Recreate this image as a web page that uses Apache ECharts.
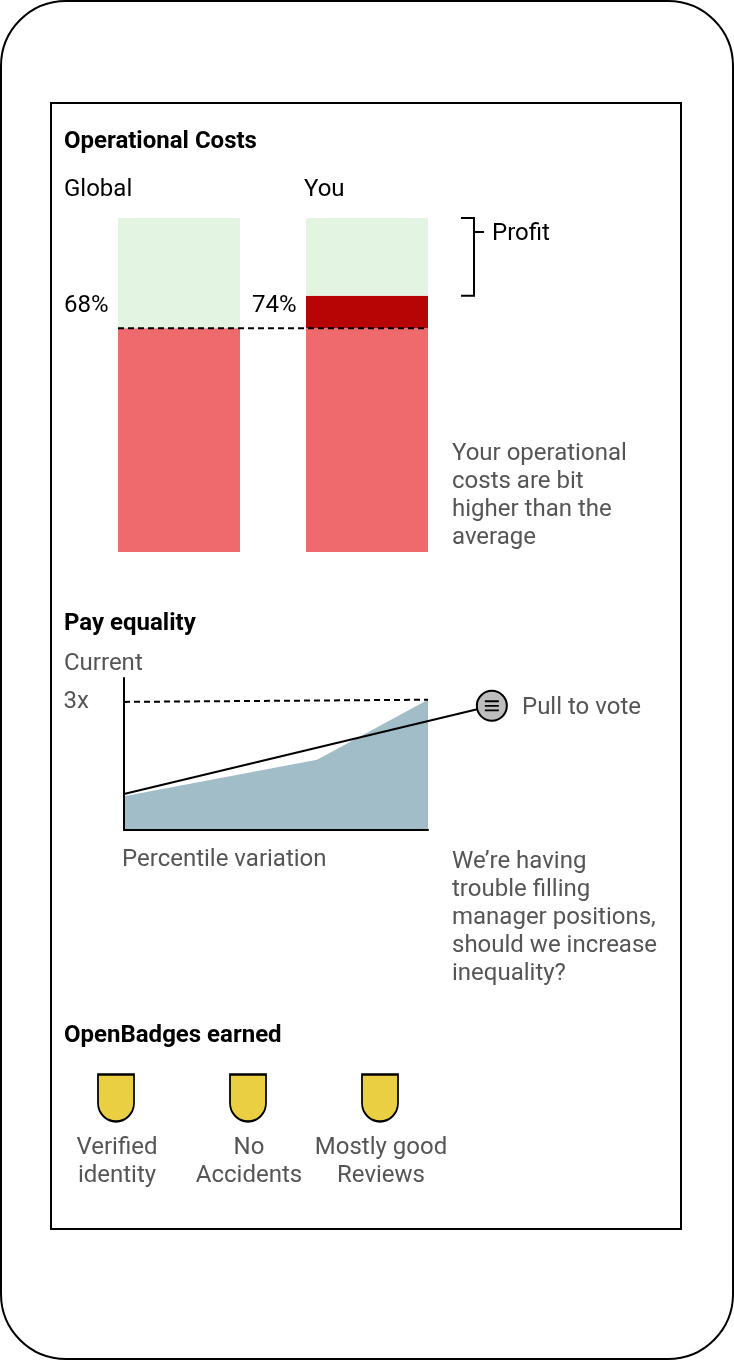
<!DOCTYPE html>
<html>
<head>
<meta charset="utf-8">
<style>
  html, body { margin: 0; padding: 0; background: #fff; }
  #main { width: 734px; height: 1360px; }
</style>
<script src="https://cdn.jsdelivr.net/npm/echarts@6/dist/echarts.min.js"></script>
</head>
<body>
<div id="main"></div>
<script>
// operational costs
const costCategories = ['Global', 'You'];
const costLabels = ['68%', '74%'];
const baseCost = [67, 67];
const extraCost = [0, 9.7];
const profit = [33, 23.3];

// pay equality
const payCurve = [[0, 0.78], [63.5, 1.62], [100, 3]];
const currentLevel = [[0, 2.95], [100, 3]];
const voteLine = [0, 0.83, 121, 2.86];

// badges
const badgeNames = ['Verified\nidentity', 'No\nAccidents', 'Mostly good\nReviews'];
const badgeValues = [1, 1, 1];

const BLACK = '#000';
const GREY = '#555';
const FONT = 'Roboto, sans-serif';

function label(text, x, y, fill, weight) {
    return {
        type: 'text',
        style: {
            text: text, x: x, y: y, fill: fill,
            font: (weight || 400) + ' 24px ' + FONT,
            lineHeight: 28, textVerticalAlign: 'middle'
        }
    };
}

function paragraph(text, x, y) {
    return {
        type: 'text',
        style: {
            text: text, x: x, y: y, fill: GREY,
            font: '400 24px ' + FONT,
            lineHeight: 28, textVerticalAlign: 'top'
        }
    };
}

const chart = echarts.init(document.getElementById('main'));

const option = {
    animation: false,
    graphic: {
        elements: [
            { type: 'rect', shape: { x: 1, y: 1, width: 732, height: 1358, r: 65 }, style: { fill: 'none', stroke: BLACK, lineWidth: 2 } },
            { type: 'rect', shape: { x: 51, y: 103, width: 630, height: 1126 }, style: { fill: 'none', stroke: BLACK, lineWidth: 2 } },
            label('Operational Costs', 64, 142, BLACK, 700),
            label(costCategories[0], 64, 190, BLACK),
            label(costCategories[1], 304, 190, BLACK),
            label(costLabels[0], 64, 306, BLACK),
            label(costLabels[1], 252, 306, BLACK),
            label('Profit', 492, 234, BLACK),
            paragraph('Your operational\ncosts are bit\nhigher than the\naverage', 452, 440),
            label('Pay equality', 64, 624, BLACK, 700),
            label('Current', 64, 664, GREY),
            label('Percentile variation', 122, 860, GREY),
            label('Pull to vote', 522, 708, GREY),
            paragraph('We\u2019re having\ntrouble filling\nmanager positions,\nshould we increase\ninequality?', 452, 848),
            label('OpenBadges earned', 64, 1036, BLACK, 700)
        ]
    },
    grid: [
        { left: 85, width: 376, top: 218, height: 334 },
        { left: 124, width: 304, top: 678, height: 152 },
        { left: 51, width: 396, top: 1074, height: 48 }
    ],
    xAxis: [
        { gridIndex: 0, type: 'category', data: costCategories, show: false },
        {
            gridIndex: 1, type: 'value', min: 0, max: 100, z: 3,
            axisLine: { show: true, onZero: false, lineStyle: { color: BLACK, width: 2 } },
            axisTick: { show: false }, axisLabel: { show: false }, splitLine: { show: false }
        },
        { gridIndex: 2, type: 'category', data: badgeNames, show: false }
    ],
    yAxis: [
        { gridIndex: 0, type: 'value', min: 0, max: 100, show: false },
        {
            gridIndex: 1, type: 'value', min: 0, max: 3.5, interval: 0.5, z: 3,
            axisLine: { show: true, lineStyle: { color: BLACK, width: 2 } },
            axisTick: { show: false }, splitLine: { show: false },
            axisLabel: {
                margin: 35,
                rich: { tick: { color: GREY, fontFamily: FONT, fontSize: 24, padding: [5, 0, 0, 0] } },
                formatter: function (v) { return v === 3 ? '{tick|3x}' : ''; }
            }
        },
        { gridIndex: 2, type: 'value', min: 0, max: 2, show: false }
    ],
    series: [
        { name: 'Base cost', type: 'bar', stack: 'cost', barWidth: 122, xAxisIndex: 0, yAxisIndex: 0, data: baseCost, itemStyle: { color: '#ef6a6c' } },
        { name: 'Extra cost', type: 'bar', stack: 'cost', barWidth: 122, xAxisIndex: 0, yAxisIndex: 0, data: extraCost, itemStyle: { color: '#b70505' } },
        { name: 'Profit', type: 'bar', stack: 'cost', barWidth: 122, xAxisIndex: 0, yAxisIndex: 0, data: profit, itemStyle: { color: '#e3f4e3' } },
        {
            // dashed level across both bars
            name: 'Average', type: 'custom', xAxisIndex: 0, yAxisIndex: 0, z: 5, clip: false,
            data: [[0, baseCost[0]]],
            renderItem: function (params, api) {
                const y = api.coord([0, api.value(1)])[1];
                const x0 = api.coord([0, 0])[0] - 61;
                const x1 = api.coord([1, 0])[0] + 61;
                return {
                    type: 'line', shape: { x1: x0, y1: y, x2: x1, y2: y },
                    style: { stroke: BLACK, lineWidth: 2, lineDash: [6, 4] }
                };
            }
        },
        {
            // bracket marking the profit share of "You"
            name: 'Profit bracket', type: 'custom', xAxisIndex: 0, yAxisIndex: 0, z: 5, clip: false,
            data: [[1, 100, baseCost[1] + extraCost[1]]],
            renderItem: function (params, api) {
                const top = api.coord([1, api.value(1)])[1];
                const bottom = api.coord([1, api.value(2)])[1];
                const x = api.coord([1, 0])[0] + 107;
                return {
                    type: 'group',
                    children: [
                        { type: 'polyline', shape: { points: [[x - 13, top], [x, top], [x, bottom], [x - 13, bottom]] }, style: { stroke: BLACK, lineWidth: 2, fill: 'none' } },
                        { type: 'line', shape: { x1: x, y1: top + 14, x2: x + 10, y2: top + 14 }, style: { stroke: BLACK, lineWidth: 2 } }
                    ]
                };
            }
        },
        {
            name: 'Pay curve', type: 'line', xAxisIndex: 1, yAxisIndex: 1, data: payCurve, symbol: 'none',
            lineStyle: { width: 0 }, areaStyle: { color: '#a1bdc8', opacity: 1 }
        },
        {
            name: 'Current level', type: 'line', xAxisIndex: 1, yAxisIndex: 1, data: currentLevel, symbol: 'none', z: 3,
            lineStyle: { color: BLACK, width: 2, type: [6, 4] }
        },
        {
            // custom so the line can run past the axis to the handle
            name: 'Vote', type: 'custom', xAxisIndex: 1, yAxisIndex: 1, z: 4, clip: false,
            data: [voteLine],
            renderItem: function (params, api) {
                const from = api.coord([api.value(0), api.value(1)]);
                const to = api.coord([api.value(2), api.value(3)]);
                return {
                    type: 'line', shape: { x1: from[0], y1: from[1], x2: to[0], y2: to[1] },
                    style: { stroke: BLACK, lineWidth: 2 }
                };
            }
        },
        {
            name: 'Handle', type: 'scatter', xAxisIndex: 1, yAxisIndex: 1, data: [[voteLine[2], voteLine[3]]], clip: false, z: 5,
            symbol: 'circle', symbolSize: 30,
            itemStyle: { color: '#bdbdbd', borderColor: BLACK, borderWidth: 2, opacity: 1 }
        },
        {
            name: 'Handle icon', type: 'scatter', xAxisIndex: 1, yAxisIndex: 1, data: [[voteLine[2], voteLine[3]]], clip: false, z: 6,
            symbol: 'path://M0 0H14V2H0Z M0 5H14V7H0Z M0 10H14V12H0Z', symbolSize: [14, 11],
            itemStyle: { color: BLACK, opacity: 1 }
        },
        {
            name: 'Badges', type: 'scatter', xAxisIndex: 2, yAxisIndex: 2, data: badgeValues,
            symbol: 'path://M0 0H36V28A18 18 0 0 1 0 28Z', symbolSize: [36, 47], symbolOffset: [-1, 0],
            itemStyle: { color: '#e9cf41', borderColor: BLACK, borderWidth: 2, opacity: 1 },
            label: {
                show: true, position: 'bottom', distance: 11, offset: [1, 0], color: GREY,
                fontFamily: FONT, fontSize: 24, lineHeight: 28, align: 'center',
                formatter: function (p) { return badgeNames[p.dataIndex]; }
            }
        }
    ]
};

chart.setOption(option);
</script>
</body>
</html>
